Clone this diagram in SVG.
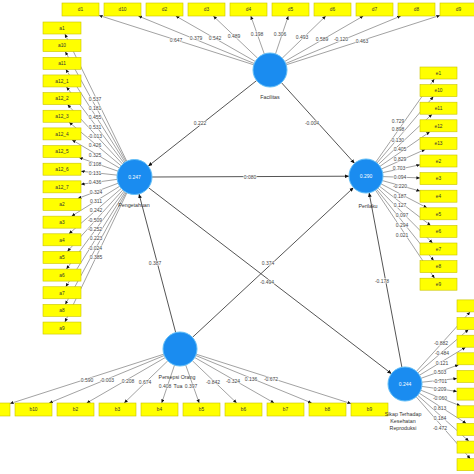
<svg xmlns="http://www.w3.org/2000/svg" width="474" height="474" viewBox="0 0 474 474">
<defs>
<style>
.bx{fill:#ffff00;stroke:#c9c400;stroke-width:0.6}
.bt{font-family:"Liberation Sans",Arial,sans-serif;font-size:4.8px;fill:#333;text-anchor:middle}
.ol{stroke:#7a7a7a;stroke-width:0.7;fill:none}
.sl{stroke:#555;stroke-width:1;fill:none}
.lv{font-family:"Liberation Sans",Arial,sans-serif;font-size:5px;fill:#444;text-anchor:middle;stroke:#fff;stroke-width:1.2px;paint-order:stroke}
.cc{fill:#1a8cf0;stroke:#63bff7;stroke-width:1}
.ct{font-family:"Liberation Sans",Arial,sans-serif;font-size:5px;fill:#fff;text-anchor:middle}
.cl{font-family:"Liberation Sans",Arial,sans-serif;font-size:5.3px;fill:#333;text-anchor:middle}
</style>
<marker id="ah" viewBox="0 0 10 10" refX="10" refY="5" markerWidth="3.6" markerHeight="3.6" markerUnits="userSpaceOnUse" orient="auto"><path d="M0,0.5 L10,5 L0,9.5 z" fill="#111"/></marker>
<marker id="as" viewBox="0 0 10 10" refX="10" refY="5" markerWidth="4.2" markerHeight="4.2" markerUnits="userSpaceOnUse" orient="auto"><path d="M0,0.5 L10,5 L0,9.5 z" fill="#111"/></marker>
</defs>
<rect width="474" height="474" fill="#fff"/>

<g id="connectors">
<line class="ol" x1="253.8" y1="64.8" x2="99" y2="15.4" marker-end="url(#ah)"/>
<line class="ol" x1="254.3" y1="63.5" x2="138.3" y2="16" marker-end="url(#ah)"/>
<line class="ol" x1="255.3" y1="61.5" x2="175.8" y2="16" marker-end="url(#ah)"/>
<line class="ol" x1="257.7" y1="58.3" x2="213.3" y2="16" marker-end="url(#ah)"/>
<line class="ol" x1="264.3" y1="54" x2="250.8" y2="16" marker-end="url(#ah)"/>
<line class="ol" x1="275.5" y1="53.9" x2="288.3" y2="16" marker-end="url(#ah)"/>
<line class="ol" x1="282.2" y1="58.2" x2="325.8" y2="16" marker-end="url(#ah)"/>
<line class="ol" x1="284.7" y1="61.5" x2="363.3" y2="16" marker-end="url(#ah)"/>
<line class="ol" x1="285.7" y1="63.5" x2="400.8" y2="16" marker-end="url(#ah)"/>
<line class="ol" x1="286.2" y1="64.8" x2="440" y2="15.4" marker-end="url(#ah)"/>
<line class="ol" x1="126.8" y1="161.3" x2="64.9" y2="34" marker-end="url(#ah)"/>
<line class="ol" x1="126.04" y1="161.68" x2="65.3" y2="51.65" marker-end="url(#ah)"/>
<line class="ol" x1="125.09" y1="162.24" x2="65.8" y2="69.3" marker-end="url(#ah)"/>
<line class="ol" x1="123.95" y1="163.03" x2="66.5" y2="86.95" marker-end="url(#ah)"/>
<line class="ol" x1="122.62" y1="164.15" x2="67.55" y2="104.6" marker-end="url(#ah)"/>
<line class="ol" x1="121.09" y1="165.76" x2="69.16" y2="122.25" marker-end="url(#ah)"/>
<line class="ol" x1="119.46" y1="168.06" x2="72.1" y2="139.9" marker-end="url(#ah)"/>
<line class="ol" x1="117.99" y1="171.2" x2="79.1" y2="157.55" marker-end="url(#ah)"/>
<line class="ol" x1="117.1" y1="175.13" x2="81" y2="171.24" marker-end="url(#ah)"/>
<line class="ol" x1="117.16" y1="179.36" x2="81" y2="184.27" marker-end="url(#ah)"/>
<line class="ol" x1="118.14" y1="183.21" x2="77.8" y2="198.5" marker-end="url(#ah)"/>
<line class="ol" x1="119.65" y1="186.25" x2="71.6" y2="216.15" marker-end="url(#ah)"/>
<line class="ol" x1="121.27" y1="188.46" x2="68.9" y2="233.8" marker-end="url(#ah)"/>
<line class="ol" x1="122.79" y1="190" x2="67.4" y2="251.45" marker-end="url(#ah)"/>
<line class="ol" x1="124.1" y1="191.07" x2="66.4" y2="269.1" marker-end="url(#ah)"/>
<line class="ol" x1="125.21" y1="191.83" x2="65.8" y2="286.75" marker-end="url(#ah)"/>
<line class="ol" x1="126.14" y1="192.38" x2="65.3" y2="304.4" marker-end="url(#ah)"/>
<line class="ol" x1="126.93" y1="192.78" x2="64.9" y2="322.05" marker-end="url(#ah)"/>
<line class="ol" x1="375.8" y1="162.1" x2="434.3" y2="79" marker-end="url(#ah)"/>
<line class="ol" x1="377" y1="163" x2="433.4" y2="96.6" marker-end="url(#ah)"/>
<line class="ol" x1="378.4" y1="164.4" x2="432.1" y2="114.2" marker-end="url(#ah)"/>
<line class="ol" x1="380" y1="166.3" x2="429.8" y2="131.8" marker-end="url(#ah)"/>
<line class="ol" x1="381.5" y1="169" x2="425.2" y2="149.4" marker-end="url(#ah)"/>
<line class="ol" x1="382.6" y1="172.6" x2="420" y2="164.8" marker-end="url(#ah)"/>
<line class="ol" x1="383" y1="176.6" x2="420" y2="177.9" marker-end="url(#ah)"/>
<line class="ol" x1="382.4" y1="180.6" x2="420" y2="191.05" marker-end="url(#ah)"/>
<line class="ol" x1="381.1" y1="183.9" x2="427" y2="207.8" marker-end="url(#ah)"/>
<line class="ol" x1="379.5" y1="186.3" x2="430.6" y2="225.4" marker-end="url(#ah)"/>
<line class="ol" x1="378" y1="188.1" x2="432.5" y2="243" marker-end="url(#ah)"/>
<line class="ol" x1="376.6" y1="189.3" x2="433.7" y2="260.6" marker-end="url(#ah)"/>
<line class="ol" x1="375.5" y1="190.1" x2="434.5" y2="278.2" marker-end="url(#ah)"/>
<line class="ol" x1="163.8" y1="354.2" x2="10" y2="403.6" marker-end="url(#ah)"/>
<line class="ol" x1="164.3" y1="355.5" x2="49.2" y2="403" marker-end="url(#ah)"/>
<line class="ol" x1="165.3" y1="357.5" x2="86.7" y2="403" marker-end="url(#ah)"/>
<line class="ol" x1="167.8" y1="360.8" x2="124.2" y2="403" marker-end="url(#ah)"/>
<line class="ol" x1="174.5" y1="365.1" x2="161.7" y2="403" marker-end="url(#ah)"/>
<line class="ol" x1="185.7" y1="365" x2="199.2" y2="403" marker-end="url(#ah)"/>
<line class="ol" x1="192.3" y1="360.7" x2="236.7" y2="403" marker-end="url(#ah)"/>
<line class="ol" x1="194.7" y1="357.5" x2="274.2" y2="403" marker-end="url(#ah)"/>
<line class="ol" x1="195.7" y1="355.5" x2="311.7" y2="403" marker-end="url(#ah)"/>
<line class="ol" x1="196.2" y1="354.2" x2="351" y2="403.6" marker-end="url(#ah)"/>
<line class="ol" x1="416.4" y1="371.4" x2="470.1" y2="311.9" marker-end="url(#ah)"/>
<line class="ol" x1="417.9" y1="372.9" x2="468.5" y2="329.5" marker-end="url(#ah)"/>
<line class="ol" x1="419.5" y1="375.2" x2="465.6" y2="347.2" marker-end="url(#ah)"/>
<line class="ol" x1="421" y1="378.3" x2="458.7" y2="364.8" marker-end="url(#ah)"/>
<line class="ol" x1="421.9" y1="382.2" x2="457" y2="378.5" marker-end="url(#ah)"/>
<line class="ol" x1="421.8" y1="386.4" x2="457" y2="391.45" marker-end="url(#ah)"/>
<line class="ol" x1="420.8" y1="390.2" x2="460.3" y2="405.8" marker-end="url(#ah)"/>
<line class="ol" x1="419.3" y1="393.2" x2="466.2" y2="423.4" marker-end="url(#ah)"/>
<line class="ol" x1="417.7" y1="395.3" x2="468.8" y2="441.1" marker-end="url(#ah)"/>
<line class="ol" x1="416.2" y1="396.8" x2="470.3" y2="458.7" marker-end="url(#ah)"/>
<line class="sl" x1="256.7" y1="80.5" x2="148.2" y2="166.2" marker-end="url(#as)"/>
<line class="sl" x1="281.4" y1="82.6" x2="354.6" y2="163.4" marker-end="url(#as)"/>
<line class="sl" x1="152" y1="177" x2="349" y2="176.2" marker-end="url(#as)"/>
<line class="sl" x1="148.4" y1="187.6" x2="391.5" y2="373.7" marker-end="url(#as)"/>
<line class="sl" x1="175.7" y1="332.6" x2="139" y2="193.9" marker-end="url(#as)"/>
<line class="sl" x1="192.4" y1="337.4" x2="353.55" y2="187.6" marker-end="url(#as)"/>
<line class="sl" x1="401.9" y1="367.3" x2="369.1" y2="192.7" marker-end="url(#as)"/>
</g>

<g id="loadings">
<text class="lv" x="176" y="41.7">0.647</text>
<text class="lv" x="196" y="39.7">0.379</text>
<text class="lv" x="215" y="39.7">0.542</text>
<text class="lv" x="234" y="37.7">0.489</text>
<text class="lv" x="257" y="35.7">0.198</text>
<text class="lv" x="280" y="35.7">0.306</text>
<text class="lv" x="302" y="38.7">0.493</text>
<text class="lv" x="322" y="40.7">0.589</text>
<text class="lv" x="341" y="40.7">-0.120</text>
<text class="lv" x="362" y="42.7">0.463</text>
<text class="lv" x="95" y="100.7">0.537</text>
<text class="lv" x="95" y="110">0.181</text>
<text class="lv" x="95" y="119.3">0.455</text>
<text class="lv" x="95" y="128.6">0.531</text>
<text class="lv" x="95" y="137.9">-0.013</text>
<text class="lv" x="95" y="147.2">0.426</text>
<text class="lv" x="95" y="156.5">0.325</text>
<text class="lv" x="95" y="165.8">0.108</text>
<text class="lv" x="95" y="175.1">0.131</text>
<text class="lv" x="95" y="184.4">0.436</text>
<text class="lv" x="96" y="193.7">0.324</text>
<text class="lv" x="96" y="203">0.311</text>
<text class="lv" x="96" y="212.3">0.242</text>
<text class="lv" x="95" y="221.6">-0.509</text>
<text class="lv" x="95" y="230.9">-0.252</text>
<text class="lv" x="96" y="240.2">0.223</text>
<text class="lv" x="95" y="249.5">-0.024</text>
<text class="lv" x="96" y="258.8">0.385</text>
<text class="lv" x="398" y="122.7">0.729</text>
<text class="lv" x="398" y="130.7">0.898</text>
<text class="lv" x="397" y="141.7">-0.130</text>
<text class="lv" x="400" y="150.7">0.405</text>
<text class="lv" x="400" y="160.7">0.829</text>
<text class="lv" x="399" y="169.7">0.703</text>
<text class="lv" x="400" y="178.7">0.094</text>
<text class="lv" x="400" y="187.7">-0.220</text>
<text class="lv" x="400" y="197.7">0.187</text>
<text class="lv" x="400" y="206.7">0.127</text>
<text class="lv" x="402" y="216.7">0.097</text>
<text class="lv" x="402" y="226.7">0.294</text>
<text class="lv" x="402" y="236.7">0.021</text>
<text class="lv" x="87" y="381.7">0.590</text>
<text class="lv" x="107" y="381.7">-0.003</text>
<text class="lv" x="128" y="382.7">0.208</text>
<text class="lv" x="145" y="383.7">0.674</text>
<text class="lv" x="165" y="388">0.408</text>
<text class="lv" x="191" y="388">0.397</text>
<text class="lv" x="213" y="383.7">-0.842</text>
<text class="lv" x="233" y="382.7">-0.324</text>
<text class="lv" x="251" y="380.7">0.136</text>
<text class="lv" x="271" y="380.7">-0.672</text>
<text class="lv" x="441" y="344.7">-0.882</text>
<text class="lv" x="442" y="354.7">-0.484</text>
<text class="lv" x="442" y="364.7">0.121</text>
<text class="lv" x="440" y="373.7">0.503</text>
<text class="lv" x="440" y="382.7">-0.701</text>
<text class="lv" x="440" y="390.7">0.209</text>
<text class="lv" x="440" y="399.7">-0.060</text>
<text class="lv" x="440" y="409.7">0.813</text>
<text class="lv" x="440" y="419.7">0.184</text>
<text class="lv" x="440" y="429.7">-0.472</text>
<text class="lv" x="200" y="124.7">0.222</text>
<text class="lv" x="312" y="124.7">-0.004</text>
<text class="lv" x="250" y="178.7">0.080</text>
<text class="lv" x="267" y="283.7">-0.494</text>
<text class="lv" x="155" y="264.7">0.387</text>
<text class="lv" x="268" y="264.7">0.374</text>
<text class="lv" x="382" y="282.7">-0.178</text>
</g>

<g id="d-indicators">
<rect class="bx" x="62" y="3" width="37" height="13"/><text class="bt" x="80.5" y="11.3">d1</text>
<rect class="bx" x="104" y="3" width="37" height="13"/><text class="bt" x="122.5" y="11.3">d10</text>
<rect class="bx" x="146" y="3" width="37" height="13"/><text class="bt" x="164.5" y="11.3">d2</text>
<rect class="bx" x="188" y="3" width="37" height="13"/><text class="bt" x="206.5" y="11.3">d3</text>
<rect class="bx" x="230" y="3" width="37" height="13"/><text class="bt" x="248.5" y="11.3">d4</text>
<rect class="bx" x="272" y="3" width="37" height="13"/><text class="bt" x="290.5" y="11.3">d5</text>
<rect class="bx" x="314" y="3" width="37" height="13"/><text class="bt" x="332.5" y="11.3">d6</text>
<rect class="bx" x="356" y="3" width="37" height="13"/><text class="bt" x="374.5" y="11.3">d7</text>
<rect class="bx" x="398" y="3" width="37" height="13"/><text class="bt" x="416.5" y="11.3">d8</text>
<rect class="bx" x="440" y="3" width="37" height="13"/><text class="bt" x="458.5" y="11.3">d9</text>
</g>

<g id="a-indicators">
<rect class="bx" x="43" y="22" width="38" height="12"/><text class="bt" x="62" y="29.8">a1</text>
<rect class="bx" x="43" y="39.65" width="38" height="12"/><text class="bt" x="62" y="47.45">a10</text>
<rect class="bx" x="43" y="57.3" width="38" height="12"/><text class="bt" x="62" y="65.1">a11</text>
<rect class="bx" x="43" y="74.95" width="38" height="12"/><text class="bt" x="62" y="82.75">a12_1</text>
<rect class="bx" x="43" y="92.6" width="38" height="12"/><text class="bt" x="62" y="100.4">a12_2</text>
<rect class="bx" x="43" y="110.25" width="38" height="12"/><text class="bt" x="62" y="118.05">a12_3</text>
<rect class="bx" x="43" y="127.9" width="38" height="12"/><text class="bt" x="62" y="135.7">a12_4</text>
<rect class="bx" x="43" y="145.55" width="38" height="12"/><text class="bt" x="62" y="153.35">a12_5</text>
<rect class="bx" x="43" y="163.2" width="38" height="12"/><text class="bt" x="62" y="171">a12_6</text>
<rect class="bx" x="43" y="180.85" width="38" height="12"/><text class="bt" x="62" y="188.65">a12_7</text>
<rect class="bx" x="43" y="198.5" width="38" height="12"/><text class="bt" x="62" y="206.3">a2</text>
<rect class="bx" x="43" y="216.15" width="38" height="12"/><text class="bt" x="62" y="223.95">a3</text>
<rect class="bx" x="43" y="233.8" width="38" height="12"/><text class="bt" x="62" y="241.6">a4</text>
<rect class="bx" x="43" y="251.45" width="38" height="12"/><text class="bt" x="62" y="259.25">a5</text>
<rect class="bx" x="43" y="269.1" width="38" height="12"/><text class="bt" x="62" y="276.9">a6</text>
<rect class="bx" x="43" y="286.75" width="38" height="12"/><text class="bt" x="62" y="294.55">a7</text>
<rect class="bx" x="43" y="304.4" width="38" height="12"/><text class="bt" x="62" y="312.2">a8</text>
<rect class="bx" x="43" y="322.05" width="38" height="12"/><text class="bt" x="62" y="329.85">a9</text>
</g>

<g id="e-indicators">
<rect class="bx" x="420" y="67" width="37" height="12"/><text class="bt" x="438.5" y="74.8">e1</text>
<rect class="bx" x="420" y="84.6" width="37" height="12"/><text class="bt" x="438.5" y="92.4">e10</text>
<rect class="bx" x="420" y="102.2" width="37" height="12"/><text class="bt" x="438.5" y="110">e11</text>
<rect class="bx" x="420" y="119.8" width="37" height="12"/><text class="bt" x="438.5" y="127.6">e12</text>
<rect class="bx" x="420" y="137.4" width="37" height="12"/><text class="bt" x="438.5" y="145.2">e13</text>
<rect class="bx" x="420" y="155" width="37" height="12"/><text class="bt" x="438.5" y="162.8">e2</text>
<rect class="bx" x="420" y="172.6" width="37" height="12"/><text class="bt" x="438.5" y="180.4">e3</text>
<rect class="bx" x="420" y="190.2" width="37" height="12"/><text class="bt" x="438.5" y="198">e4</text>
<rect class="bx" x="420" y="207.8" width="37" height="12"/><text class="bt" x="438.5" y="215.6">e5</text>
<rect class="bx" x="420" y="225.4" width="37" height="12"/><text class="bt" x="438.5" y="233.2">e6</text>
<rect class="bx" x="420" y="243" width="37" height="12"/><text class="bt" x="438.5" y="250.8">e7</text>
<rect class="bx" x="420" y="260.6" width="37" height="12"/><text class="bt" x="438.5" y="268.4">e8</text>
<rect class="bx" x="420" y="278.2" width="37" height="12"/><text class="bt" x="438.5" y="286">e9</text>
</g>

<g id="b-indicators">
<rect class="bx" x="-27" y="403" width="37" height="13"/>
<rect class="bx" x="15" y="403" width="37" height="13"/><text class="bt" x="33.5" y="411.3">b10</text>
<rect class="bx" x="57" y="403" width="37" height="13"/><text class="bt" x="75.5" y="411.3">b2</text>
<rect class="bx" x="99" y="403" width="37" height="13"/><text class="bt" x="117.5" y="411.3">b3</text>
<rect class="bx" x="141" y="403" width="37" height="13"/><text class="bt" x="159.5" y="411.3">b4</text>
<rect class="bx" x="183" y="403" width="37" height="13"/><text class="bt" x="201.5" y="411.3">b5</text>
<rect class="bx" x="225" y="403" width="37" height="13"/><text class="bt" x="243.5" y="411.3">b6</text>
<rect class="bx" x="267" y="403" width="37" height="13"/><text class="bt" x="285.5" y="411.3">b7</text>
<rect class="bx" x="309" y="403" width="37" height="13"/><text class="bt" x="327.5" y="411.3">b8</text>
<rect class="bx" x="351" y="403" width="37" height="13"/><text class="bt" x="369.5" y="411.3">b9</text>
</g>

<g id="c-indicators">
<rect class="bx" x="457" y="299.9" width="37" height="12"/>
<rect class="bx" x="457" y="317.5" width="37" height="12"/>
<rect class="bx" x="457" y="335.2" width="37" height="12"/>
<rect class="bx" x="457" y="352.8" width="37" height="12"/>
<rect class="bx" x="457" y="370.5" width="37" height="12"/>
<rect class="bx" x="457" y="388.1" width="37" height="12"/>
<rect class="bx" x="457" y="405.8" width="37" height="12"/>
<rect class="bx" x="457" y="423.4" width="37" height="12"/>
<rect class="bx" x="457" y="441.1" width="37" height="12"/>
<rect class="bx" x="457" y="458.7" width="37" height="12"/>
</g>

<g id="facilitas">
<circle class="cc" cx="270" cy="70" r="17"/>
<text class="cl" x="270" y="99">Facilitas</text>
</g>
<g id="pengetahuan">
<circle class="cc" cx="134.5" cy="177" r="17.5"/>
<text class="ct" x="134.5" y="178.8">0.247</text>
<text class="cl" x="134" y="207">Pengetahuan</text>
</g>
<g id="perilaku">
<circle class="cc" cx="366" cy="176" r="17"/>
<text class="ct" x="366" y="177.8">0.290</text>
<text class="cl" x="368" y="207.5">Perilaku</text>
</g>
<g id="persepsi">
<circle class="cc" cx="180" cy="349" r="17"/>
<text class="cl" x="177" y="379">Persepsi Orang</text>
<text class="cl" x="178" y="388">Tua</text>
</g>
<g id="sikap">
<circle class="cc" cx="405" cy="384" r="17"/>
<text class="ct" x="405" y="385.8">0.244</text>
<text class="cl" x="403" y="415.5">Sikap Terhadap</text>
<text class="cl" x="403" y="422.5">Kesehatan</text>
<text class="cl" x="403" y="429.5">Reproduksi</text>
</g>
</svg>
